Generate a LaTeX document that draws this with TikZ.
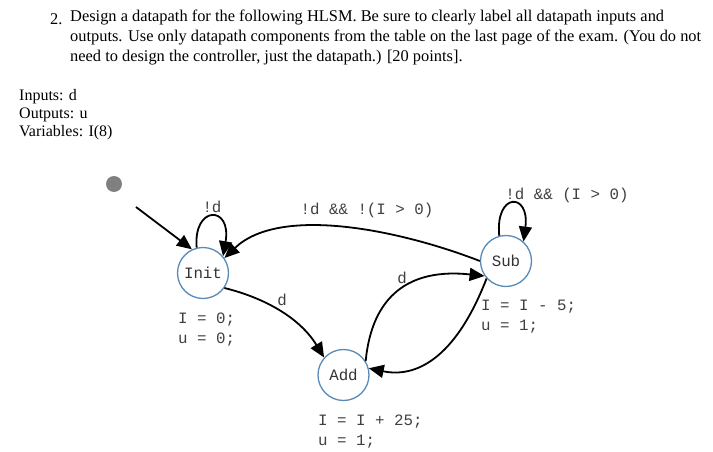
\documentclass[tikz,border=0pt]{standalone}
\usepackage{fontspec}
\setmainfont{Liberation Serif}
\setmonofont{Liberation Mono}
\usetikzlibrary{arrows.meta}
\usetikzlibrary{positioning}
\definecolor{stateblue}{RGB}{88,138,184}
\definecolor{dotgray}{RGB}{128,128,128}

\begin{document}
\begin{tikzpicture}[x=1pt,y=-1pt,
  state/.style={circle,draw=stateblue,line width=1.3pt,minimum size=51pt,inner sep=0pt,font=\fontsize{15.8}{18}\selectfont\ttfamily,text=black!80},
  trans/.style={line width=1.8pt,-{Triangle[length=15pt,width=13pt]}},
  lbl/.style={font=\fontsize{15.8}{18}\selectfont\ttfamily,text=black!75,inner sep=1pt},
  act/.style={font=\fontsize{15.8}{20}\selectfont\ttfamily,text=black!75,align=left,anchor=west,inner sep=0pt},
  hdr/.style={font=\fontsize{16.4}{20}\selectfont,align=left,inner sep=0pt}]
\useasboundingbox (0,0) rectangle (713,452);

\node[hdr,anchor=west] (num) at (50,19) {2.};
\node[hdr,anchor=north west] (task) at (70,10) {Design a datapath for the following HLSM. Be sure to clearly label all datapath inputs and\\
outputs. Use only datapath components from the table on the last page of the exam. (You do not\\
need to design the controller, just the datapath.) [20 points].};
\node[hdr,anchor=north west,font=\fontsize{16}{18.3}\selectfont] (io) at (19,89) {Inputs: d\\ Outputs: u\\ Variables: I(8)};

\node[circle,fill=dotgray,minimum size=16pt,inner sep=0pt] (start) at (114,184) {};
\coordinate (entry) at (136,207);
\node[state] (init) at (203,273) {Init};
\node[state] (add) at (343.5,375) {Add};
\node[state] (sub) at (506,261) {Sub};

\draw[trans] (entry) -- (init.115);
\draw[trans] (init.104) .. controls (193,205) and (232,205) .. (init.40);
\draw[trans] (sub.180) .. controls (400,230) and (280,205) .. (init.35);
\draw[trans] (init.-35) .. controls (265,298) and (300,318) .. (add.138);
\draw[trans] (add.32) .. controls (372,295) and (410,268) .. (sub.215);
\draw[trans] (sub.222) .. controls (455,360) and (415,378) .. (add.15);
\draw[trans] (sub.105) .. controls (495,192) and (530,192) .. (sub.48);

\node[lbl] (l1) at (212,207) {!d};
\node[lbl] (l2) at (367,210) {!d \&\& !(I > 0)};
\node[lbl] (l3) at (567,195) {!d \&\& (I > 0)};
\node[lbl] (l4) at (402,278) {d};
\node[lbl] (l5) at (282,300) {d};

\node[act] (ainit) at (178,330) {I = 0;\\u = 0;};
\node[act] (asub) at (481,317) {I = I - 5;\\u = 1;};
\node[act] (aadd) at (318,432) {I = I + 25;\\u = 1;};

\end{tikzpicture}
\end{document}
